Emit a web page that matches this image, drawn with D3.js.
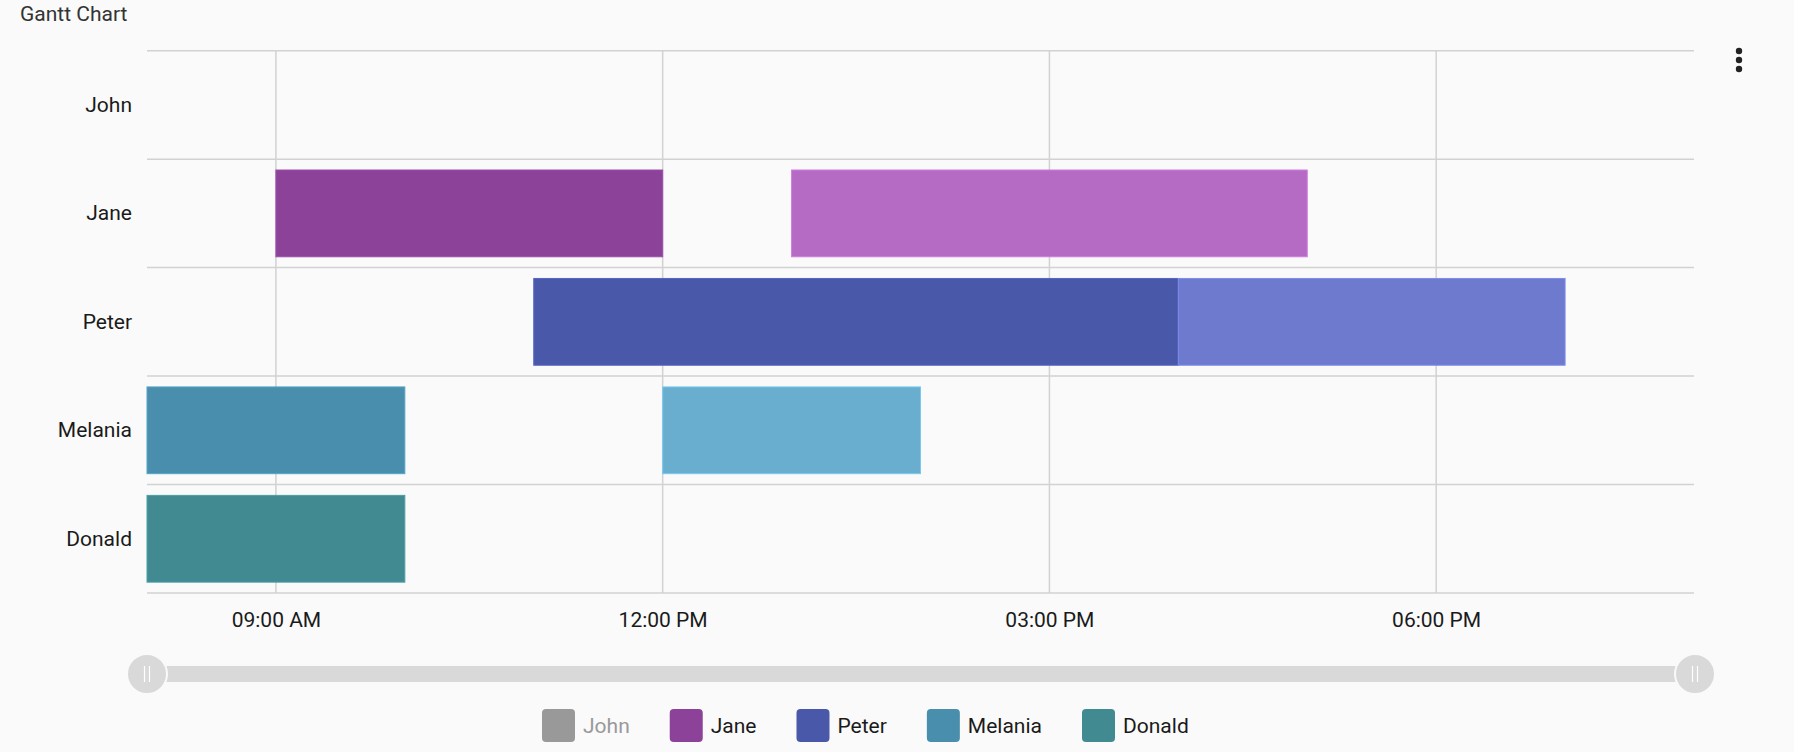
<!DOCTYPE html>
<html>
<head>
<meta charset="utf-8">
<script src="https://cdn.jsdelivr.net/npm/d3@7"></script>
<style>
  html, body { margin: 0; padding: 0; background: #fafafa; }
  svg { display: block; font-family: Roboto, "Noto Sans", sans-serif; }
</style>
</head>
<body>
<svg width="1794" height="752"></svg>
<script>
// rows (top to bottom) and the tasks on them
const people = ["John", "Jane", "Peter", "Melania", "Donald"];
const taskPerson = ["Jane", "Jane", "Peter", "Peter", "Melania", "Melania", "Donald"];
const taskStart = ["09:00", "13:00", "11:00", "16:00", "08:00", "12:00", "08:00"];
const taskEnd = ["12:00", "17:00", "16:00", "19:00", "10:00", "14:00", "10:00"];
const hiddenPeople = ["John"];
const dayStart = "08:00", dayEnd = "20:00";

// colours: first task of a person uses the dark one, the next the light one
const darkColor = { John: "#999999", Jane: "#8b4298", Peter: "#4a58aa", Melania: "#4a8eae", Donald: "#418a91" };
const lightColor = { John: "#bbbbbb", Jane: "#b56bc3", Peter: "#6d7acd", Melania: "#6aaecf", Donald: "#5fa9b0" };

var svg = d3.select("svg"),
    width = +svg.attr("width"),
    height = +svg.attr("height");

var margin = { left: 147, right: 100, top: 50.7, bottom: 159 };
var parse = d3.timeParse("%H:%M");
var fontSize = 21;

var x = d3.scaleTime()
    .domain([parse(dayStart), parse(dayEnd)])
    .range([margin.left, width - margin.right]);

var y = d3.scaleBand()
    .domain(people)
    .range([margin.top, height - margin.bottom])
    .paddingInner(0.2)
    .paddingOuter(0.1);

var gridColor = "#d2d2d2";

// title
svg.append("text")
    .attr("x", 20).attr("y", 21)
    .attr("font-size", fontSize)
    .attr("fill", "#333")
    .text("Gantt Chart");

// horizontal row separators
var step = y.step();
var rowLines = people.map(p => y(p) - step * 0.1).concat([y(people[people.length - 1]) + y.bandwidth() + step * 0.1]);
svg.append("g").selectAll("line")
    .data(rowLines)
    .enter().append("line")
    .attr("x1", margin.left).attr("x2", width - margin.right)
    .attr("y1", d => d).attr("y2", d => d)
    .attr("stroke", gridColor).attr("stroke-width", 1.5);

// vertical grid at every tick
var ticks = x.ticks(d3.timeHour.every(3));
svg.append("g").selectAll("line")
    .data(ticks)
    .enter().append("line")
    .attr("x1", d => x(d)).attr("x2", d => x(d))
    .attr("y1", margin.top).attr("y2", height - margin.bottom)
    .attr("stroke", gridColor).attr("stroke-width", 1.5);

// bars
var seen = {};
var tasks = taskPerson.map((p, i) => {
    seen[p] = (seen[p] || 0) + 1;
    return { person: p, start: parse(taskStart[i]), end: parse(taskEnd[i]), n: seen[p] };
});

svg.append("g").selectAll("rect")
    .data(tasks.filter(t => !hiddenPeople.includes(t.person)))
    .enter().append("rect")
    .attr("x", d => x(d.start))
    .attr("y", d => y(d.person))
    .attr("width", d => x(d.end) - x(d.start))
    .attr("height", y.bandwidth())
    .attr("fill", d => d.n === 1 ? darkColor[d.person] : lightColor[d.person])
    .attr("stroke", d => d3.color(d.n === 1 ? darkColor[d.person] : lightColor[d.person]).brighter(0.4))
    .attr("stroke-width", 1);

// y axis labels
var yAxis = svg.append("g")
    .attr("transform", "translate(" + (margin.left - 15) + ",0)")
    .call(d3.axisLeft(y).tickSize(0).tickPadding(0));
yAxis.select(".domain").remove();
yAxis.selectAll("text")
    .attr("font-family", "Roboto, sans-serif")
    .attr("font-size", fontSize)
    .attr("fill", "#1a1a1a");

// x axis labels
var xAxis = svg.append("g")
    .attr("transform", "translate(0," + (height - margin.bottom) + ")")
    .call(d3.axisBottom(x).tickValues(ticks).tickFormat(d3.timeFormat("%I:%M %p")).tickSize(0).tickPadding(19));
xAxis.select(".domain").remove();
xAxis.selectAll("text")
    .attr("font-family", "Roboto, sans-serif")
    .attr("font-size", fontSize)
    .attr("fill", "#1a1a1a");

// scrollbar
var sbY = 674, sbX1 = margin.left, sbX2 = width - margin.right + 1;
svg.append("rect")
    .attr("x", sbX1).attr("y", sbY - 8)
    .attr("width", sbX2 - sbX1).attr("height", 16)
    .attr("fill", "#d9d9d9");
[sbX1, sbX2].forEach(cx => {
    var h = svg.append("g").attr("transform", "translate(" + cx + "," + sbY + ")");
    h.append("circle").attr("r", 20).attr("fill", "#d9d9d9").attr("stroke", "#fafafa").attr("stroke-width", 2);
    [-2.5, 2.5].forEach(dx => {
        h.append("line").attr("x1", dx).attr("x2", dx).attr("y1", -8).attr("y2", 8)
            .attr("stroke", "#fff").attr("stroke-width", 1.2);
    });
});

// three-dot menu
svg.append("g").selectAll("circle")
    .data([51, 60, 69])
    .enter().append("circle")
    .attr("cx", 1739).attr("cy", d => d).attr("r", 3.2)
    .attr("fill", "#222");

// legend
var lx = 542, ly = 709;
people.forEach(p => {
    var off = hiddenPeople.includes(p);
    var g = svg.append("g").attr("transform", "translate(" + lx + "," + ly + ")");
    g.append("rect")
        .attr("width", 33).attr("height", 33).attr("rx", 4)
        .attr("fill", off ? "#999999" : darkColor[p]);
    var t = g.append("text")
        .attr("x", 41).attr("y", 24)
        .attr("font-size", fontSize)
        .attr("fill", off ? "#999999" : "#1a1a1a")
        .text(p);
    lx += 41 + t.node().getComputedTextLength() + 40;
});
</script>
</body>
</html>
